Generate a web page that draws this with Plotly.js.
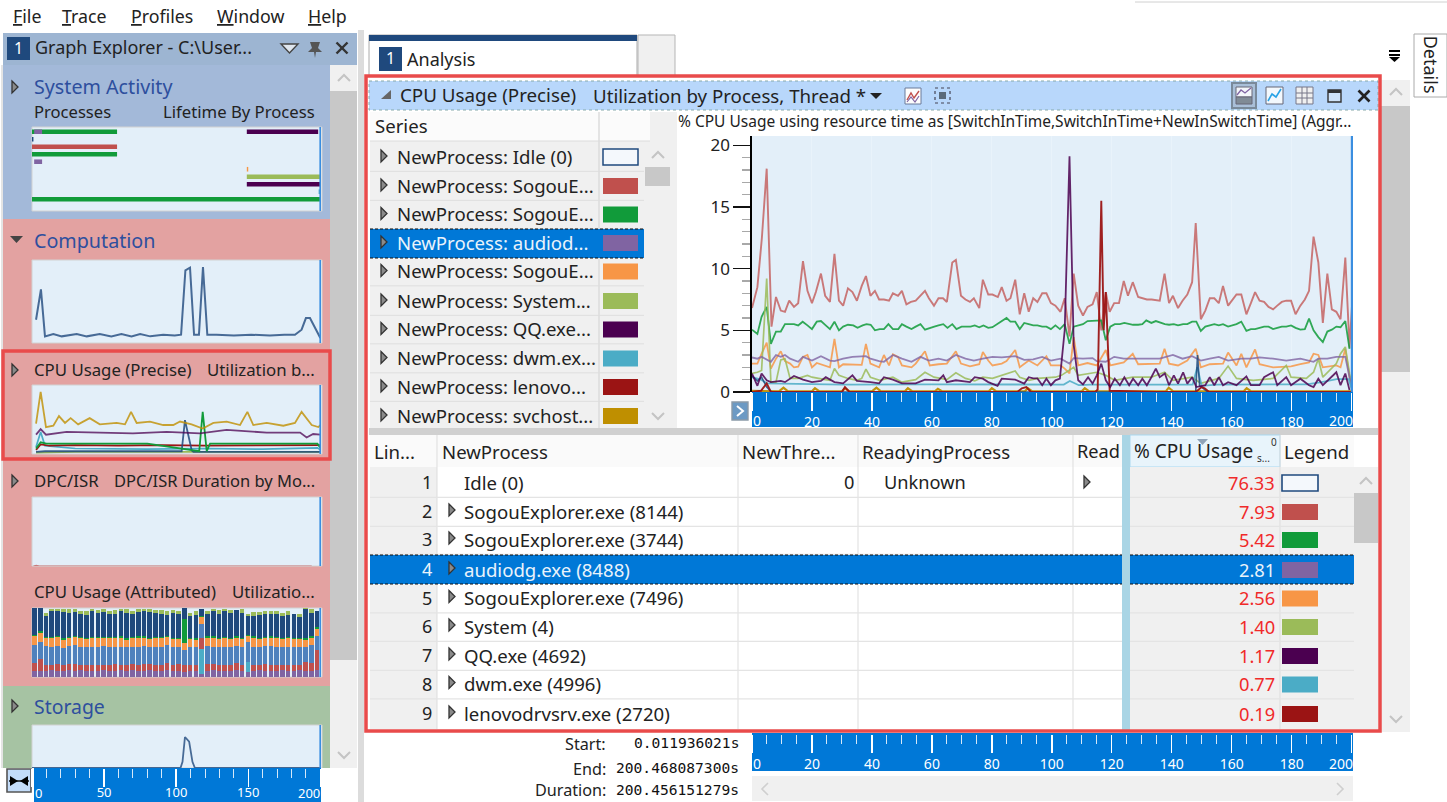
<!DOCTYPE html>
<html><head><meta charset="utf-8">
<script src="https://cdn.plot.ly/plotly-3.0.1.min.js"></script>
<style>html,body{margin:0;padding:0;background:#fff;overflow:hidden}#g{width:1447px;height:802px}</style>
</head><body><div id="g"></div>
<script>
// ---------- main chart values, [time, % CPU] ----------
const sogou8144=[[0,6.8],[1.8,8.5],[3.3,12.5],[4.9,18.1],[6.5,5.3],[8,7.7],[9.6,6.6],[11,6.5],[12.4,7.4],[14,6.9],[15.4,7.2],[17,10.6],[18.5,8.2],[20,7.2],[21.3,8.1],[23,9.6],[24.4,7.8],[26,7.3],[27.5,11.2],[29,7.4],[30.4,7.0],[32,8.4],[33.5,8.1],[35,7.4],[36.6,8.6],[38,9.4],[39.5,7.8],[41,8.2],[42.4,7.5],[44,7.5],[45.7,7.4],[47,8.0],[48.7,7.8],[50,8.2],[51.5,7.1],[53,7.3],[54.6,7.4],[56.2,7.8],[57.7,8.2],[59,7.6],[60.7,7.0],[62.2,7.6],[63.7,7.6],[65,7.3],[66.8,10.5],[68,10.7],[69.7,7.8],[71.2,7.5],[72.7,7.3],[74,7.6],[75.8,6.8],[77,9.1],[78.8,7.9],[80.2,7.9],[82,7.7],[83.3,8.5],[84.9,7.4],[86.2,7.6],[87.8,9.1],[89.3,6.3],[90.8,8.0],[92.3,6.5],[93.8,7.6],[95.2,7.3],[96.8,8.0],[98.2,8.0],[99.7,7.2],[101.2,7.0],[102.9,6.5],[104.3,7.6],[105.9,4.5],[107.3,9.6],[108.8,7.0],[110.4,6.2],[111.9,6.9],[113.6,7.1],[115,8.1],[116.5,5.0],[118,8.1],[119.3,6.5],[120.8,7.2],[122.4,7.2],[124,9.0],[125.4,7.8],[127,8.9],[128.8,7.7],[130.2,7.6],[131.7,7.5],[133.3,7.5],[135,7.4],[136,7.4],[137.6,9.6],[139.1,7.2],[140.4,7.8],[142.1,6.8],[143.6,7.4],[145.2,7.9],[146.8,8.9],[148,13.7],[149.7,5.9],[151.2,6.6],[152.7,7.6],[154.2,7.6],[155.7,7.2],[157.1,8.6],[158.8,7.0],[160.2,7.5],[161.6,7.9],[163.2,7.9],[164.9,6.3],[166.4,7.2],[167.8,8.1],[169.3,7.4],[170.8,7.3],[172.3,6.9],[173.8,6.7],[175.2,7.0],[176.7,7.3],[178.2,7.4],[179.8,7.4],[181.3,6.3],[182.9,7.0],[184.4,7.5],[185.8,8.2],[187.3,12.6],[188.9,10.5],[190.4,5.6],[191.9,9.6],[193.4,6.7],[194.9,6.5],[196.3,5.9],[197.9,10.9],[199.3,3.6],[200.2,7.3]];
const sogou3744=[[0,5.05],[1.8,4.7],[3.2,6.1],[4.9,6.9],[6.3,3.9],[8,4.9],[9.6,4.9],[11,5.5],[12.7,5.5],[14,5.5],[15.4,5.4],[16.9,5.7],[18.5,5.4],[20,5.1],[21.6,5.7],[23,5.75],[24.6,5.4],[26,5.1],[27.5,5.7],[29,5.0],[30.4,5.3],[32,5.45],[33.8,5.4],[35.2,5.2],[36.9,5.4],[38.2,5.5],[39.6,5.45],[41,5.0],[42.6,5.1],[44,5.1],[45.5,5.5],[47,5.1],[48.8,5.1],[50,5.5],[51.5,5.3],[53.2,5.1],[54.6,5.3],[56.2,5.5],[57.7,5.05],[59.3,5.2],[60.8,5.3],[62.2,5.4],[63.8,5.5],[65.2,5.2],[66.8,5.5],[68.2,5.1],[69.9,5.3],[71.3,5.3],[72.9,5.3],[74.3,5.4],[75.8,5.25],[77.2,5.4],[78.8,5.2],[80.2,5.25],[81.9,5.5],[83.3,5.7],[84.9,6.0],[86.2,5.7],[87.8,5.7],[89.3,5.1],[90.8,5.6],[92.3,5.5],[93.8,5.4],[95.2,5.4],[96.8,5.3],[98.2,5.3],[99.7,5.1],[101.2,5.4],[102.7,5.1],[104.3,5.5],[105.9,3.9],[107.3,5.3],[108.8,5.4],[110.4,5.5],[111.9,5.75],[113.6,5.75],[115,5.8],[116.5,5.8],[118,4.2],[119.5,5.3],[121,5.5],[122.7,5.5],[124.2,5.6],[125.8,5.5],[127.1,5.45],[128.8,5.45],[130.2,5.5],[131.5,5.8],[133.2,5.6],[134.7,5.75],[136.2,5.6],[137.7,5.5],[139.1,5.45],[140.7,5.5],[142.1,5.4],[143.8,5.5],[145.2,5.5],[146.8,5.7],[148.2,5.7],[149.7,4.95],[151.2,5.3],[152.7,5.4],[154.2,5.5],[155.7,5.4],[157.1,5.5],[158.8,5.3],[160.2,5.4],[161.6,5.5],[163.2,5.7],[164.9,4.95],[166.4,5.1],[167.8,5.1],[169.3,5.2],[170.8,5.3],[172.3,5.3],[173.8,5.1],[175.2,5.2],[176.7,5.3],[178.2,5.3],[179.8,5.4],[181.3,5.2],[182.9,5.05],[184.4,5.1],[185.8,5.95],[187.3,5.0],[188.9,4.45],[190.4,4.05],[191.9,4.9],[193.4,5.05],[194.9,5.3],[196.3,5.25],[197.9,5.75],[199.3,3.5]];
const audiodg8488=[[0,2.8],[1.8,2.7],[3.2,2.85],[4.9,2.6],[6.3,2.45],[8,3.0],[9.6,2.85],[11,3.0],[12.7,2.7],[15.4,2.45],[17,2.85],[20,2.55],[23,2.9],[26,2.55],[27.5,2.5],[30.4,2.7],[33.5,2.85],[38,2.9],[39.5,2.7],[42.4,2.5],[44,2.45],[47,3.0],[50,2.7],[53.2,2.45],[56.2,2.85],[59,2.55],[62.2,2.7],[65,2.55],[68,3.0],[71.2,2.7],[74,2.55],[77,2.7],[80.2,2.85],[83.3,2.8],[87.8,2.9],[90.8,2.6],[93.8,2.65],[96.8,2.85],[99.7,2.55],[102.9,2.7],[105.9,2.3],[107.3,2.75],[110.4,2.7],[113.6,2.75],[115,2.5],[118,2.45],[120.8,2.85],[124,2.7],[130.2,2.7],[136,2.7],[140.4,3.0],[143.6,2.7],[146.8,2.9],[149.7,2.55],[152.7,2.7],[155.7,2.85],[158.8,2.55],[163.2,2.7],[166.4,2.7],[169.3,2.8],[173.8,2.7],[178.2,2.55],[182.9,2.7],[185.8,2.55],[187.3,2.45],[188.9,2.7],[191.9,2.7],[194.9,2.85],[197.9,2.85],[199.3,1.2],[200.3,0]];
const sogou7496=[[0,2.3],[1.8,2.3],[3.2,3.1],[4.9,4.0],[6.3,1.9],[8,2.7],[9.6,3.3],[11,2.5],[12.7,2.3],[14,2.0],[15.4,2.05],[17,2.85],[18.5,3.0],[20,2.0],[21.6,2.35],[23,2.25],[26,2.0],[27.5,4.3],[29,2.0],[30.4,2.25],[33.5,2.25],[36.6,2.2],[38,3.9],[39.5,2.3],[42.4,2.0],[44,3.0],[45.7,2.15],[47,3.05],[48.7,2.85],[50,2.15],[53.2,2.0],[54.6,2.3],[57.7,3.3],[59.3,2.15],[62.2,2.25],[65,2.3],[68,3.3],[69.7,2.3],[72.7,2.08],[75.8,2.25],[77,3.25],[78.8,2.55],[80.2,2.15],[83.3,2.3],[84.9,2.5],[87.8,3.4],[89.3,2.0],[92.3,2.55],[95.2,2.15],[98.2,2.9],[99.7,2.15],[102.9,2.15],[104.3,1.9],[105.9,1.5],[107.3,4.45],[108.8,2.15],[111.9,2.35],[115,2.15],[118,3.4],[119.5,2.15],[124,2.4],[127,3.1],[128.8,2.25],[133.2,2.3],[136,2.3],[137.6,3.5],[139.1,2.3],[142.1,2.15],[145.2,2.55],[148,3.5],[149.7,2.0],[152.7,2.25],[157.1,2.3],[158.8,3.2],[161.6,2.15],[163.2,3.1],[164.9,2.0],[167.8,3.45],[169.3,2.25],[173.8,2.0],[179.8,2.08],[182.9,2.25],[185.8,2.4],[187.3,3.1],[188.9,3.0],[190.4,2.0],[194.9,2.15],[196.3,2.0],[197.9,3.5],[199.3,1.2],[200.3,0.5]];
const system4=[[0,1.5],[1.8,1.6],[3.2,1.75],[4.9,9.2],[6.3,0.8],[8,0.8],[9.6,2.6],[11,2.7],[12.7,1.1],[15.4,1.1],[18.5,1.35],[20,1.2],[24.4,1.0],[26,0.95],[27.5,1.9],[29,1.35],[32,1.1],[35,0.95],[36.6,1.1],[38,1.85],[39.5,1.2],[42.6,0.95],[47,1.2],[50,0.8],[54.6,1.0],[57.7,1.6],[60.7,1.2],[65,1.0],[68,1.55],[71.2,1.1],[74.3,0.9],[77,1.2],[80.2,1.1],[83.3,1.35],[87.8,1.7],[89.3,1.2],[92.4,0.95],[95.2,1.1],[101.2,1.2],[103.2,1.35],[105.9,1.75],[107.3,2.0],[108.8,1.35],[112.1,1.5],[115,1.6],[118,1.35],[121,0.95],[127,1.2],[133.2,1.2],[137.6,1.6],[140.4,0.95],[146.8,1.2],[149.7,0.7],[155.7,1.1],[158.8,2.1],[161.6,1.1],[167.2,0.95],[173.8,1.1],[178.2,2.15],[179.8,1.2],[184.9,1.1],[187.3,1.6],[188.9,2.7],[190.4,1.2],[194.9,2.3],[196.3,3.1],[197.9,3.65],[199.3,1.5],[200.3,0.3]];
const qq4692=[[0,1.5],[1.8,0.5],[3.2,1.5],[4.9,0.95],[6.3,0.8],[9.6,0.9],[11,0.8],[14,1.3],[17,1.0],[20,0.8],[23,0.9],[24.6,1.2],[27.5,0.8],[30.4,0.7],[33.5,1.35],[35,0.9],[39.5,0.8],[42.4,0.7],[44,1.2],[47,1.0],[50,0.7],[54.6,0.7],[57.7,1.0],[62.2,0.95],[63.8,1.35],[65,0.8],[68,0.95],[72.7,0.8],[74.3,1.2],[77,1.08],[78.8,0.8],[81.9,0.5],[83.3,1.08],[87.8,1.0],[90.8,0.68],[92.3,1.2],[93.8,1.1],[95.2,1.1],[96.8,0.55],[98.2,1.08],[99.7,0.55],[101.2,0.95],[102.7,1.08],[104.3,5.0],[105.9,19.1],[107.3,3.8],[108.8,0.95],[110.4,0.62],[112.1,1.2],[113.6,0.68],[115,1.35],[116.5,2.3],[118,0.95],[119.5,0.4],[121,1.08],[122.7,0.55],[124.2,1.2],[125.8,0.55],[127.1,1.08],[128.8,0.55],[130.2,1.08],[131.7,0.55],[133.2,1.2],[134.7,1.9],[136,1.2],[137.7,1.5],[139.1,0.55],[140.7,1.35],[142.1,0.68],[143.8,1.6],[145.2,0.68],[146.8,1.2],[148.2,0.4],[151.2,0.55],[152.7,1.2],[154.2,0.55],[155.7,1.2],[157.1,0.55],[158.8,0.8],[161.6,0.55],[164.9,1.27],[166.4,0.55],[169.3,0.55],[170.8,1.2],[173.8,1.6],[175.2,0.55],[178.2,1.2],[179.8,0.55],[182.9,1.08],[185.8,0.55],[187.3,0.4],[188.9,1.08],[190.4,0.55],[194.9,1.6],[196.3,0.55],[197.9,1.5],[199.3,0.15]];
const dwm4996=[[0,1.2],[3,1.0],[5,0.7],[30,0.6],[60,0.62],[89,0.6],[104,0.6],[106,0.9],[109,0.55],[113,0.6],[135,0.62],[147,0.6],[148.5,2],[150,0.5],[155,0.6],[185,0.62],[190,0.8],[195,1.05],[199,1.05],[200.3,0]];
const lenovo2720=[[0,0],[3,0.1],[4.9,0.7],[6.3,0],[30,0],[31,0.4],[32.5,0],[88.5,0],[90,0.3],[91.5,0.4],[93,0],[114.5,0],[115.3,0.2],[116.5,15.5],[117.3,5],[118,8.1],[119.3,0.1],[135,0],[148,0],[150,0.4],[151,0.3],[152.5,0],[200,0]];
const svchost=[[0,0.1],[9,0.05],[10.5,0.35],[12,0.05],[20,0.05],[21,0.3],[22.5,0.05],[30,0.05],[31,0.3],[32.5,0.05],[40,0.05],[41.5,0.35],[43,0.05],[51,0.05],[52,0.3],[53.5,0.05],[61,0.05],[62,0.25],[63.5,0.05],[79,0.05],[80,0.3],[81.5,0.05],[91,0.05],[92,0.3],[93.5,0.05],[110,0.05],[111,0.3],[112.5,0.05],[138,0.05],[139,0.35],[140.5,0.05],[164,0.05],[165,0.3],[166.5,0.05],[200,0.05]];
const otherBlue=[[0,1.3],[1.8,0.9],[3.2,1.2],[4.9,0.4],[6.5,0],[146.5,0],[148,0],[148.6,3],[149.3,0.5],[150.5,0.3],[152,0]];

const processSeries=[
 {name:"Idle (0)",pct:"76.33",color:"#1f497d",swatchFill:"#f4f8fc"},
 {name:"SogouExplorer.exe (8144)",pct:"7.93",color:"#c0504d"},
 {name:"SogouExplorer.exe (3744)",pct:"5.42",color:"#119b3a"},
 {name:"audiodg.exe (8488)",pct:"2.81",color:"#8064a2"},
 {name:"SogouExplorer.exe (7496)",pct:"2.56",color:"#f79646"},
 {name:"System (4)",pct:"1.40",color:"#9bbb59"},
 {name:"QQ.exe (4692)",pct:"1.17",color:"#4b0050"},
 {name:"dwm.exe (4996)",pct:"0.77",color:"#4bacc6"},
 {name:"lenovodrvsrv.exe (2720)",pct:"0.19",color:"#9b1414"}];
const seriesLabels=["NewProcess: Idle (0)","NewProcess: SogouE...","NewProcess: SogouE...","NewProcess: audiod...","NewProcess: SogouE...","NewProcess: System...","NewProcess: QQ.exe...","NewProcess: dwm.ex...","NewProcess: lenovo...","NewProcess: svchost..."];
const seriesSwatches=["#f4f8fc","#c0504d","#119b3a","#8064a2","#f79646","#9bbb59","#4b0050","#4bacc6","#9b1414","#bf8f00"];
const mainTicks=[0,20,40,60,80,100,120,140,160,180,200];
const mainTickText=["","20","40","60","80","100","120","140","160","180",""];
const sideTicks=[0,50,100,150,200];
const sideTickText=["","50","100","150",""];

// ---------- thumbnails ----------
// [row, start, end]
const laneGreen=[[0,0,59],[3,0,59],[9,0,200.4]];
const lanePurple=[[0,1.5,7],[4,1.5,7]];
const laneNavy=[[1,0,1]];
const laneRed=[[2,0,59]];
const laneDark=[[0,149,198.5],[7,149,200.4]];
const laneOrange=[[5,149,150]];
const laneLime=[[6,149,200.4]];
const laneTeal=[[8,198.8,200.4]];
const computationLine=[[2.8,28],[6.2,64.5],[9,8],[14.8,10.7],[20.6,8],[31,10.7],[38,8],[47,10.7],[55,8],[62,10.7],[69,8],[75,10.7],[82,8],[91,10],[99,9],[103.4,10],[106.4,87.6],[109.6,90.8],[112.4,10],[115.8,10],[118.6,91.6],[121.6,10],[128,10],[140,9],[152,10],[165,9],[175,10],[182.4,10],[187,16],[190,30],[192.8,30],[196.3,18],[200,6]];
const thumbGold=[[2.8,44],[6,90],[9.7,39],[14.8,41],[18.7,55],[22.9,45],[26.8,52],[32,43],[40,52],[47,43],[58.7,45],[64.5,43],[68.7,61],[72.6,45],[81.8,47],[91,42],[98,42],[102.7,47],[110.7,43],[118.4,37],[125.8,45],[135,47],[144.3,42],[149.4,61],[153.5,42],[162.8,45],[174.3,41],[182.4,45],[187,61],[194,42],[198.6,39],[200,42]];
const thumbPurple=[[2.8,28],[6,36],[9.7,28],[24,32],[47,31],[70,30],[93.4,32],[116.5,30],[135,35],[162.8,31],[186,31],[190.5,24],[195,29],[200,28]];
const thumbGreen=[[2.8,8],[6,17],[10,15],[40,15],[80,15],[116,4],[118.4,61],[121.2,4],[123.5,15],[160,15],[198,15],[200,9]];
const thumbDarkRed=[[2.8,6],[6,14],[12,12],[30,13],[60,12],[90,13],[120,12],[150,12],[180,13],[200,13]];
const thumbTeal=[[2.8,10],[6,32],[9,12],[30,8],[80,7],[120,8],[160,7],[198,9],[200,6]];
const thumbLime=[[2.8,2],[30,3],[80,3],[120,3],[150,4],[200,3]];
const thumbNavy=[[2.8,3],[9,4],[103.8,4],[106.1,49],[110.8,5],[112,3],[200,3]];
const dpcBlip=[[1,0],[3,0.8],[5,0],[186,0],[190,0.9],[194,0]];
const storageLine=[[0,-20],[103,-20],[104.4,0],[106.1,81],[109,66],[111.3,0],[113,-20],[200,-20]];
const attribT=[1.7,5.7,9.7,13.7,17.7,21.7,25.7,29.7,33.7,37.7,41.7,45.7,49.7,53.7,57.7,61.7,65.7,69.7,73.7,77.7,81.7,85.7,89.7,93.7,97.7,101.7,105.7,109.7,113.7,117.7,121.7,125.7,129.7,133.7,137.7,141.7,145.7,149.7,153.7,157.7,161.7,165.7,169.7,173.7,177.7,181.7,185.7,189.7,193.7,197.7];
const attribMisc=[8,9,9,10,9,8,10,9,10,9,8,9,10,9,9,10,8,10,9,9,10,9,8,10,9,9,7,9,9,5,9,10,9,9,8,10,9,7,9,10,9,9,8,10,9,9,10,8,9,10];
const attribTeal=[0,0,0,0,0,0,0,0,0,0,0,0,0,0,0,0,0,0,0,0,0,0,0,0,0,0,0,0,0,36,0,0,0,0,0,0,0,15,0,0,0,0,0,0,0,0,0,0,0,0];
const attribRed=[13,17,9,8,10,9,9,10,8,9,10,9,8,9,10,8,9,9,8,10,9,8,9,11,9,10,10,9,8,15,10,9,8,9,10,10,9,0,9,8,10,9,10,8,9,9,8,14,12,29];
const attribBlue=[26,25,27,26,26,25,26,27,25,26,26,25,27,26,25,26,26,25,27,26,25,26,27,26,25,24,22,25,26,21,26,25,27,26,25,25,26,29,26,25,26,27,25,26,26,25,26,22,25,20];
const attribOrange=[12,13,11,12,13,12,11,12,13,11,12,13,11,12,12,13,11,12,13,12,11,13,12,11,12,12,10,12,11,10,12,13,11,12,12,12,11,8,13,12,11,12,13,11,12,12,11,10,10,10];
const attribGreen=[2,2,2,2,2,2,2,2,2,2,2,2,2,2,2,2,2,2,2,2,2,2,2,2,2,2,35,2,2,2,2,2,2,2,2,2,2,2,2,2,2,2,2,2,2,2,2,3,3,3];
const attribNavy=[39,34,30,37,35,38,35,34,33,33,37,35,36,33,34,36,37,33,35,36,37,35,34,30,36,35,16,32,34,10,33,36,35,37,36,38,36,27,30,33,33,32,33,31,32,35,30,41,34,24];
const attribLime=[0,0,5,4,4,4,5,4,4,5,4,4,4,4,5,4,5,4,4,4,4,4,5,5,4,4,0,4,5,0,4,4,5,4,4,0,5,4,5,4,4,4,4,5,5,0,5,2,5,0];

const W=1447,H=802;
const FONT='"Noto Sans", "Open Sans", sans-serif';
const BLUE='#0078d7',GREYBG='#f0f0f0',TEXT='#222',PLOT='#e3eff9',NAVY='#1f497d',RED='#e94b4b',LINK='#2e4f9e';
const ROWF=18.6;
const px=x=>x/W, py=y=>1-y/H;
const dx=(a,b)=>[a/W,b/W], dy=(top,bot)=>[1-bot/H,1-top/H];
const shapes=[],annotations=[];
const rect=(x0,y0,x1,y1,fill,line,lw,layer,dash)=>shapes.push({type:'rect',xref:'paper',yref:'paper',x0:px(x0),x1:px(x1),y0:py(y0),y1:py(y1),fillcolor:fill||'rgba(0,0,0,0)',line:{color:line||'rgba(0,0,0,0)',width:line?(lw||1):0,dash:dash||'solid'},layer:layer||'below'});
const seg=(x0,y0,x1,y1,c,w,dash,layer)=>shapes.push({type:'line',xref:'paper',yref:'paper',x0:px(x0),x1:px(x1),y0:py(y0),y1:py(y1),line:{color:c,width:w||1,dash:dash||'solid'},layer:layer||'below'});
const poly=(pts,fill,line,w,closed,layer)=>shapes.push({type:'path',xref:'paper',yref:'paper',path:'M'+pts.map(p=>px(p[0])+' '+py(p[1])).join('L')+(closed===false?'':'Z'),fillcolor:fill||'rgba(0,0,0,0)',line:{color:line||'rgba(0,0,0,0)',width:line?(w||1):0},layer:layer||'below'});
const txt=(s,x,y,size,color,anchor,extra)=>annotations.push(Object.assign({text:s,xref:'paper',yref:'paper',x:px(x-(anchor==='left'||!anchor?1:0)),y:py(y-0.8),xanchor:anchor||'left',yanchor:'middle',showarrow:false,borderpad:0,font:{family:FONT,size:size||17.5,color:color||TEXT}},extra||{}));
const triR=(x,y,c)=>poly([[x,y-6],[x+6,y],[x,y+6]],'#8a8a8a',c||'#333',1.3);
const chevUp=(x,y,c)=>poly([[x-6,y+3],[x,y-3],[x+6,y+3]],null,c||'#c4c4c4',2,false);
const chevDn=(x,y,c)=>poly([[x-6,y-3],[x,y+3],[x+6,y-3]],null,c||'#c4c4c4',2,false);
const xMark=(x,y,r,c,w)=>{seg(x-r,y-r,x+r,y+r,c,w);seg(x-r,y+r,x+r,y-r,c,w);};
const badge=(x0,y0,x1,y1)=>{rect(x0,y0,x1,y1,NAVY);txt('1',(x0+x1)/2,(y0+y1)/2,16,'#fff','center');};
const DASH='3px,2px';

// ---------- left pane ----------
const menu=[['F','ile',13],['T','race',62],['P','rofiles',131],['W','indow',217],['H','elp',308]];
menu.forEach(m=>txt('<span style="text-decoration:underline">'+m[0]+'</span>'+m[1],m[2],17,17.8,'#222'));
rect(3,33,357,65,'#9db5d2');
badge(7,37,30,60);
txt('Graph Explorer - C:\\User...',35,48,18,'#222');
poly([[281,44],[298,44],[289.5,53]],'#dfe6ee','#444',1.4);
poly([[310,42],[320,42],[318,48],[322,52],[316,52],[315,58],[314,52],[308,52],[312,48]],'#555');
xMark(342,48,5.5,'#333',2.4);
rect(3,65,330,219,'#a3b9d9');
rect(3,219,330,686,'#e3a2a1');
rect(3,686,330,768,'#a6c3a3');
rect(330,65,357,91,GREYBG);
rect(330,91,357,660,'#c8c8c8');
rect(330,660,357,768,GREYBG);
chevUp(344,78);chevDn(344,755);
seg(2,65,2,768,'#c9c9c9',1);
txt('System Activity',34,87,19.7,LINK);
txt('Processes',34,112,16.6);
txt('Lifetime By Process',316,112,16.7,TEXT,'right');
triR(12,87);
txt('Computation',34,241,19.7,LINK);
poly([[10,236],[23,236],[16.5,243]],'#444');
txt('CPU Usage (Precise)',34,370,16.8);
txt('Utilization b...',316,370,16.8,TEXT,'right');
triR(12,370);
txt('DPC/ISR',34,481,16.8);
txt('DPC/ISR Duration by Mo...',316,481,16.5,TEXT,'right');
triR(12,481);
txt('CPU Usage (Attributed)',34,592,16.8);
txt('Utilizatio...',316,592,16.8,TEXT,'right');
txt('Storage',34,707,19.4,LINK);
triR(12,706);
// thumbnails background and frame
const thumbBoxes={x2:[127,211],x3:[260,343],x4:[385,454],x5:[497,566],x6:[608,677],x7:[725,768]};
Object.values(thumbBoxes).forEach(b=>{rect(32,b[0],322,b[1],PLOT,'#d2d2d2',1);});
rect(3,351,330,459,null,RED,3.5);
// bottom-left band
rect(0,768,330,802,'#ffffff');
rect(34,768,321,802,BLUE);
rect(7,769,31,792,'#c3dcf9','#555',1.6);
poly([[10,776],[18,781],[10,786]],'#000');poly([[28,776],[20,781],[28,786]],'#000');seg(9,781,29,781,'#000',1.4);
txt('0',35,794,13,'#ffffff');
txt('200',321,794,13,'#ffffff','right');
// middle divider
rect(358,30,364,802,'#dcdcdc');

// ---------- analysis tab ----------
rect(369,35,637,76,'#ffffff','#aaaaaa',1);
rect(369,35,637,41,NAVY);
badge(379,47,402,71);
txt('Analysis',407,60,18);
rect(638,35,675,76,GREYBG,'#b5b5b5',1);
seg(1135,2,1447,2,'#d0d0d0',1);
rect(1389,50,1400,52,'#000');rect(1389,54,1400,56,'#000');poly([[1389,57],[1400,57],[1394.5,62]],'#000');
rect(1414,34,1447,97,'#ffffff','#aaaaaa',1);
txt('Details',1431,65.5,18,'#222','center',{textangle:90,yanchor:'middle'});
// outer right scrollbar
rect(1381,80,1410,106,GREYBG);
rect(1381,106,1410,372,'#c8c8c8');
rect(1381,372,1410,732,GREYBG);
chevUp(1396,92);chevDn(1396,719);

// ---------- view header ----------
rect(369,81,1378,110,'#b8d7fb','#8aa',1,'below','dot');
poly([[381,99],[391,99],[391,90]],'#666');
txt('CPU Usage (Precise)',400,96,18.8);
txt('Utilization by Process, Thread *',593,96,18.7);
poly([[870,93],[882,93],[876,99]],'#222');
rect(905,88,921,104,'#fdfdfd','#6a7a9a',1);
poly([[907,100],[911,93],[914,98],[919,91]],null,'#c0504d',1.4,false);
poly([[907,102],[911,97],[915,102],[919,96]],null,'#8064a2',1.2,false);
rect(935,88,950,103,null,'#445',1.2,'below','dot');rect(939,92,946,99,'#5a6a7a');
rect(1232,83,1256,108,'#a9bfd8','#7a8a9a',2);
rect(1236,87,1252,97,'#f3f6fa','#667',1);poly([[1237,95],[1241,90],[1245,93],[1251,88]],null,'#8064a2',1.3,false);
rect(1236,97,1252,104,'#808b96','#667',1);
rect(1266,87,1283,104,'#f3f8fd','#667',1);poly([[1268,101],[1272,94],[1276,97],[1281,89]],null,'#29a3e6',1.6,false);
rect(1296,87,1313,104,'#f0f0f0','#778',1);
[1302,1307].forEach(x=>seg(x,87,x,104,'#778',1));[93,98].forEach(y=>seg(1296,y,1313,y,'#778',1));
rect(1328,90,1341,102,'#cfe2f7','#333',1.4);rect(1328,90,1341,93,'#333');
xMark(1364,96,5.5,'#222',2.6);

// ---------- series list ----------
rect(370,112,677,428,GREYBG);
rect(370,112,650,141,'#fbfbfb');
seg(370,141,650,141,'#dcdcdc',1);seg(599,112,599,428,'#dcdcdc',1.5);
txt('Series',375,126,ROWF);
rect(677,111,1378,428,'#ffffff');
const seriesRowY=[157,186,214.5,243,271.5,301,329.5,358.5,387,416];
seriesLabels.forEach((s,i)=>{
 const y=seriesRowY[i];
 if(i===3){rect(370,229,644,258,BLUE);seg(370,229,644,229,'#111',1,DASH);seg(370,258,644,258,'#111',1,DASH);}
 else if(i<9) seg(370,y+14.3,644,y+14.3,'#dedede',1);
 triR(381,y-1);
 txt(s,397,y,ROWF,i===3?'#eaf3fb':TEXT);
 rect(603,y-8,638,y+8,seriesSwatches[i],i===0?NAVY:null,1.5);
});
chevUp(658,155);rect(645,167,670,186,'#c8c8c8');chevDn(658,416);

// ---------- main plot surroundings ----------
txt('% CPU Usage using resource time as [SwitchInTime,SwitchInTime+NewInSwitchTime] (Aggr...',678,122,15.5,'#222');
rect(752,136,1353,392,PLOT);
rect(752,392,1353,427,BLUE);
rect(732,402,748,420,'#6c9ac4','#8a9aa8',1.4);
poly([[737,406],[743,411],[737,416]],null,'#fff',2,false);
txt('0',753,421.5,14,'#ffffff');
txt('200',1354,421.5,14,'#ffffff','right');
rect(369,428,1378,435,'#d0d0d0');

// ---------- table ----------
rect(370,435,1354,467,'#fafafa');
const cols=[[374,'Lin...'],[442,'NewProcess'],[742,'NewThre...'],[862,'ReadyingProcess'],[1077,'Read'],[1134,'% CPU Usage'],[1284,'Legend']];
rect(1130,435,1280,467,'#e8f4fb','#a9d8f0',1);
cols.forEach(c=>txt(c[1],c[0],452,c[1]==='% CPU Usage'?19:(c[1]==='Read'?18.2:ROWF)));
txt('s...',1257,459,10,'#333');txt('0',1271,443,10,'#333');
poly([[1197,439],[1208,439],[1202.5,445]],'#8fa3b8');
const rowY=[483,512,540,570,598.5,627,656,684.5,714];
rect(370,467,437,729,GREYBG);
rect(437,467,1122,729,'#ffffff');
rect(1130,467,1354,729,GREYBG);
rect(1354,467,1378,729,GREYBG);
[437,738,858,1073,1280].forEach(x=>seg(x,435,x,729,'#dddddd',1));
processSeries.forEach((p,i)=>{
 const y=rowY[i],sel=i===3;
 if(sel){rect(370,555,1122,584,BLUE);rect(1130,555,1354,584,BLUE);
  seg(370,555,1122,555,'#111',1,DASH);seg(370,584,1122,584,'#111',1,DASH);seg(1130,555,1354,555,'#111',1,DASH);seg(1130,584,1354,584,'#111',1,DASH);}
 else if(i<8) seg(370,y+14.3,1354,y+14.3,'#e4e4e4',1.3);
 txt(String(i+1),433,y,18,sel?'#eaf3fb':TEXT,'right');
 txt(p.name,464,y,ROWF,sel?'#eaf3fb':TEXT);
 if(i>0) triR(449,y-2);
 txt(p.pct,1276,y,18.3,sel?'#eaf3fb':'#f02a2a','right');
 rect(1282,y-8,1318,y+8,p.swatchFill||p.color,i===0?NAVY:null,1.6);
});
txt('0',855,483,18.2,TEXT,'right');txt('Unknown',884,483,18.2);triR(1084,482);
rect(1122,435,1130,731,'#a9d5e5');
chevUp(1366,481);rect(1354,493,1378,543,'#c8c8c8');
rect(366,76,1380,731,null,RED,3.5);

// ---------- time range footer ----------
const footerLabels=['Start:','End:','Duration:'];
const footerValues=['0.011936021s','200.468087300s','200.456151279s'];
const footerY=[745,770,790.5];
footerY.forEach((y,i)=>{
 txt(footerLabels[i],607,y,16.2,'#222','right');
 txt(footerValues[i],740,i===2?y:y-2,14.4,'#111','right',{font:{family:'"DejaVu Sans Mono",monospace',size:14.6,color:'#111'}});
});
rect(752,733,1353,771,BLUE);
txt('0',753,764,14,'#ffffff');
txt('200',1354,764,14,'#ffffff','right');
rect(752,776,1353,801,GREYBG);
poly([[768,783],[762,789],[768,795]],null,'#cfcfcf',1.6,false);
poly([[1337,783],[1343,789],[1337,795]],null,'#cfcfcf',1.6,false);

// ---------- traces ----------
const X=a=>a.map(p=>p[0]),Y=a=>a.map(p=>p[1]);
const traces=[];
const line=(data,color,ax,w,name,op)=>traces.push({type:'scatter',mode:'lines',name:name,x:X(data),y:Y(data),xaxis:'x'+ax,yaxis:'y'+ax,line:{color:color,width:w||1.6,shape:'linear'},opacity:op===undefined?1:op,hoverinfo:'skip',showlegend:false,cliponaxis:true});
// main chart
line(svchost,'#bf8f00','',2.2,'svchost',0.95);
line(sogou8144,'#c0504d','',1.9,'SogouExplorer.exe (8144)',0.75);
line(sogou3744,'#119b3a','',1.8,'SogouExplorer.exe (3744)',0.85);
line(sogou7496,'#f79646','',1.8,'SogouExplorer.exe (7496)',0.85);
line(system4,'#9bbb59','',1.7,'System (4)',0.85);
line(audiodg8488,'#8064a2','',1.8,'audiodg.exe (8488)',0.8);
line(dwm4996,'#4bacc6','',1.8,'dwm.exe (4996)',0.85);
line(otherBlue,'#1f497d','',1.6,'Idle (0)',0.85);
line(lenovo2720,'#9b1414','',1.9,'lenovodrvsrv.exe (2720)',0.95);
line(qq4692,'#4b0050','',1.8,'QQ.exe (4692)',0.85);
// lanes
const lane=(rows,color)=>{const x=[],y=[];rows.forEach(r=>{x.push(r[1],r[2],null);y.push(r[0],r[0],null);});traces.push({type:'scatter',mode:'lines',x:x,y:y,xaxis:'x2',yaxis:'y2',line:{color:color,width:4.6},hoverinfo:'skip',showlegend:false});};
lane(laneGreen,'#119b3a');lane(lanePurple,'#8064a2');lane(laneNavy,'#1f497d');lane(laneRed,'#c0504d');lane(laneDark,'#4b0050');lane(laneOrange,'#f79646');lane(laneLime,'#9bbb59');lane(laneTeal,'#4bacc6');
line(computationLine,'#1f497d',3,2,'Computation',0.8);
line(thumbLime,'#9bbb59',4,1.7);line(thumbTeal,'#4bacc6',4,1.7);line(thumbDarkRed,'#9b1414',4,1.7);
line(thumbNavy,'#1f497d',4,1.8,'',0.85);line(thumbGreen,'#119b3a',4,1.8);
line(thumbPurple,'#4b0050',4,1.8,'',0.75);line(thumbGold,'#bf8f00',4,1.8,'',0.8);
line(dpcBlip,'#c0504d',5,1.2,'',0.7);
const stack=[[attribMisc,'#8064a2'],[attribTeal,'#4bacc6'],[attribRed,'#c0504d'],[attribBlue,'#4f81bd'],[attribOrange,'#f79646'],[attribGreen,'#119b3a'],[attribNavy,'#1f497d'],[attribLime,'#9bbb59']];
stack.forEach(s=>traces.push({type:'bar',x:attribT,y:s[0],xaxis:'x6',yaxis:'y6',marker:{color:s[1],line:{width:0}},width:3.2,hoverinfo:'skip',showlegend:false}));
line(storageLine,'#1f497d',7,1.8,'Storage',0.8);
traces.push({type:'scatter',mode:'lines',x:[0,200.46],y:[0,0],xaxis:'x8',yaxis:'y8',line:{color:BLUE,width:1},hoverinfo:'skip',showlegend:false});

const TR=[0,200.46];
const hiddenX=(t,b)=>({domain:dx(32,321),range:TR,visible:false,fixedrange:true,anchor:'y'+t});
const hiddenY=(t,b,r,rev)=>({domain:dy(b[0],b[1]),range:r,visible:false,fixedrange:true,anchor:'x'+t});
const bandAxis=(dom,y,vals,text,minor,labelSize,standoff)=>({domain:dom,range:TR,fixedrange:true,anchor:y,showgrid:false,zeroline:false,showline:false,ticks:'outside',ticklen:17.5,tickwidth:1.4,tickcolor:'#ffffff',tickmode:'array',tickvals:vals,ticktext:text,ticklabelstandoff:standoff||0,tickfont:{family:FONT,size:labelSize||14,color:'#ffffff'},tickangle:0,minor:{ticks:'outside',ticklen:8.5,tickwidth:1,tickcolor:'#d5e8f8',dtick:minor,tick0:0,showgrid:false}});

const layout={
 width:W,height:H,margin:{l:0,r:0,t:0,b:0,pad:0},autosize:false,
 paper_bgcolor:'rgba(255,255,255,0)',plot_bgcolor:'rgba(0,0,0,0)',showlegend:false,barmode:'stack',hovermode:false,
 font:{family:FONT,color:TEXT},shapes:shapes,annotations:annotations,
 xaxis:Object.assign(bandAxis(dx(752,1353),'y',mainTicks,mainTickText,5),{showgrid:true,gridcolor:'#e9f3fb',gridwidth:1}),
 yaxis:{domain:dy(136,392),range:[0,20.75],fixedrange:true,anchor:'x',showgrid:false,zeroline:false,showline:true,linecolor:'#000',linewidth:1.6,ticks:'outside',ticklen:17,tickwidth:1.5,tickcolor:'#111',tickmode:'array',tickvals:[0,5,10,15,20],ticktext:['0','5','10','15','20'],tickfont:{family:FONT,size:17,color:'#222'},minor:{ticks:'outside',ticklen:8,tickwidth:1.4,tickcolor:'#a8a8a8',dtick:1,tick0:0,showgrid:false}},
 xaxis2:hiddenX(2),yaxis2:hiddenY(2,thumbBoxes.x2,[10.57,-0.63]),
 xaxis3:hiddenX(3),yaxis3:hiddenY(3,thumbBoxes.x3,[0,100]),
 xaxis4:hiddenX(4),yaxis4:hiddenY(4,thumbBoxes.x4,[0,100]),
 xaxis5:hiddenX(5),yaxis5:hiddenY(5,thumbBoxes.x5,[0,100]),
 xaxis6:hiddenX(6),yaxis6:hiddenY(6,thumbBoxes.x6,[0,100]),
 xaxis7:bandAxis(dx(32,321),'y7',sideTicks,sideTickText,10,13,-5),
 yaxis7:hiddenY(7,thumbBoxes.x7,[-20,120]),
 xaxis8:bandAxis(dx(752,1353),'y8',mainTicks,mainTickText,5),
 yaxis8:{domain:dy(733,734),range:[-1,1],visible:false,fixedrange:true,anchor:'x8'}
};
// right-edge time cursors
['x','x2','x3','x4','x5','x6','x7'].forEach(a=>{
 const yn=a==='x'?'y':'y'+a.slice(1);
 shapes.push({type:'line',xref:a,yref:yn+' domain',x0:200.1,x1:200.1,y0:0,y1:1,line:{color:'#3a8ee0',width:2.2},layer:'above'});
});
Plotly.newPlot('g',traces,layout,{staticPlot:true,displayModeBar:false,responsive:false});
</script></body></html>
